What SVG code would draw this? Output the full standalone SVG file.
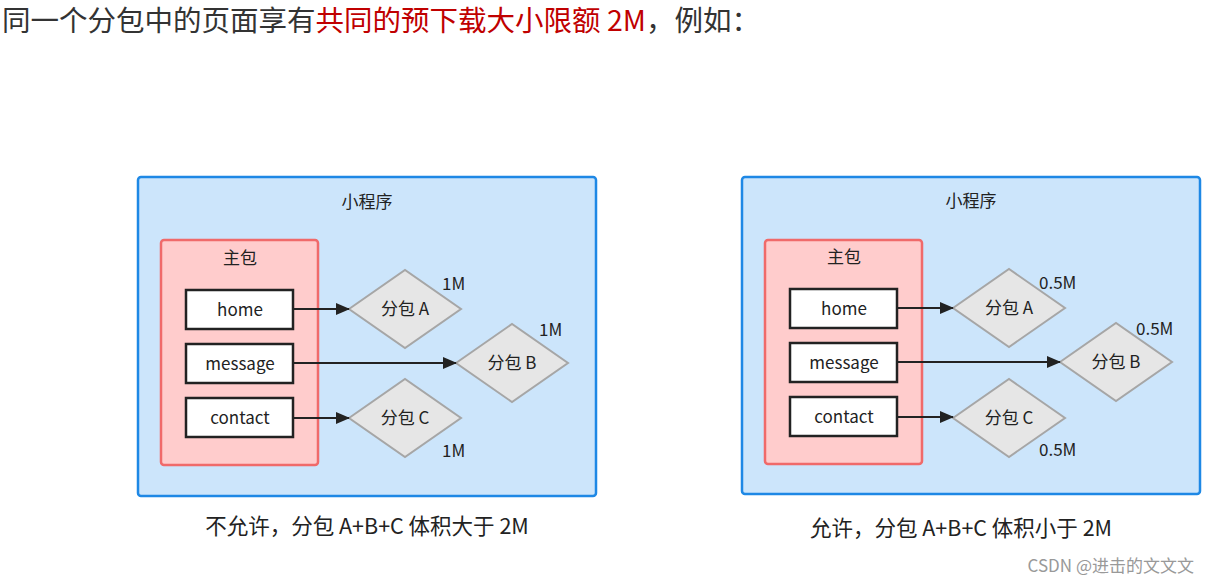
<svg xmlns="http://www.w3.org/2000/svg" width="1208" height="584" viewBox="0 0 1208 584">
<style>
text{font-family:"Noto Sans CJK SC","Noto Sans",sans-serif;fill:#222}
.outer{fill:#cce5fb;stroke:#1e88e5;stroke-width:2.5}
.pkg{fill:#ffcccc;stroke:#f06a6a;stroke-width:2.5}
.page{fill:#fff;stroke:#222;stroke-width:2.5}
.dia{fill:#e6e6e6;stroke:#a6a6a6;stroke-width:2}
.c{text-anchor:middle;font-size:17px}
.cap{text-anchor:middle;font-size:21.5px}
.lbl{font-size:17px}
.arr{stroke:#222;stroke-width:2;fill:none;marker-end:url(#ah)}
</style>
<defs><marker id="ah" markerWidth="14" markerHeight="12" refX="13" refY="6" orient="auto" markerUnits="userSpaceOnUse"><path d="M0,0 L14,6 L0,12 z" fill="#222"/></marker></defs>
<rect width="1208" height="584" fill="#fff"/>
<text x="2" y="31" font-size="28.5" style="fill:#333">同一个分包中的页面享有<tspan style="fill:#c00000">共同的预下载大小限额 2M</tspan>，例如：</text>
<g id="left">
<rect class="outer" x="138" y="177" width="458" height="319" rx="3"/>
<text class="c" x="367" y="208">小程序</text>
<rect class="pkg" x="161" y="240" width="157" height="225" rx="3"/>
<text class="c" x="240" y="264">主包</text>
<g id="l-home"><rect class="page" x="186" y="290" width="107" height="39"/><text class="c" x="240" y="316">home</text></g>
<g id="l-msg"><rect class="page" x="186" y="344" width="107" height="39"/><text class="c" x="240" y="370">message</text></g>
<g id="l-contact"><rect class="page" x="186" y="398" width="107" height="39"/><text class="c" x="240" y="424">contact</text></g>
<g id="l-A"><polygon class="dia" points="349,309 405,270 461,309 405,348"/><text class="c" x="405" y="315">分包 A</text><text class="lbl" x="442" y="290">1M</text></g>
<g id="l-B"><polygon class="dia" points="456,363 512,324 568,363 512,402"/><text class="c" x="512" y="369">分包 B</text><text class="lbl" x="539" y="336">1M</text></g>
<g id="l-C"><polygon class="dia" points="349,418 405,379 461,418 405,457"/><text class="c" x="405" y="424">分包 C</text><text class="lbl" x="442" y="457">1M</text></g>
<text class="cap" x="367" y="534">不允许，分包 A+B+C 体积大于 2M</text>
</g>
<g id="right">
<rect class="outer" x="742" y="177" width="458" height="317" rx="3"/>
<text class="c" x="971" y="207">小程序</text>
<rect class="pkg" x="765" y="240" width="157" height="224" rx="3"/>
<text class="c" x="844" y="263">主包</text>
<g id="r-home"><rect class="page" x="790" y="289" width="107" height="39"/><text class="c" x="844" y="315">home</text></g>
<g id="r-msg"><rect class="page" x="790" y="343" width="107" height="39"/><text class="c" x="844" y="369">message</text></g>
<g id="r-contact"><rect class="page" x="790" y="397" width="107" height="39"/><text class="c" x="844" y="423">contact</text></g>
<g id="r-A"><polygon class="dia" points="953,308 1009,269 1065,308 1009,347"/><text class="c" x="1009" y="314">分包 A</text><text class="lbl" x="1039" y="289">0.5M</text></g>
<g id="r-B"><polygon class="dia" points="1060,362 1116,323 1172,362 1116,401"/><text class="c" x="1116" y="368">分包 B</text><text class="lbl" x="1136" y="335">0.5M</text></g>
<g id="r-C"><polygon class="dia" points="953,418 1009,379 1065,418 1009,457"/><text class="c" x="1009" y="424">分包 C</text><text class="lbl" x="1039" y="456">0.5M</text></g>
<text class="cap" x="961" y="536">允许，分包 A+B+C 体积小于 2M</text>
</g>
<g id="connectors">
<line class="arr" x1="293" y1="309" x2="349" y2="309"/>
<line class="arr" x1="293" y1="363" x2="456" y2="363"/>
<line class="arr" x1="293" y1="418" x2="349" y2="418"/>
<line class="arr" x1="897" y1="308" x2="953" y2="308"/>
<line class="arr" x1="897" y1="362" x2="1060" y2="362"/>
<line class="arr" x1="897" y1="417" x2="953" y2="417"/>
</g>
<text x="1194" y="572" font-size="17" text-anchor="end" style="fill:#999">CSDN @进击的文文文</text>
</svg>
